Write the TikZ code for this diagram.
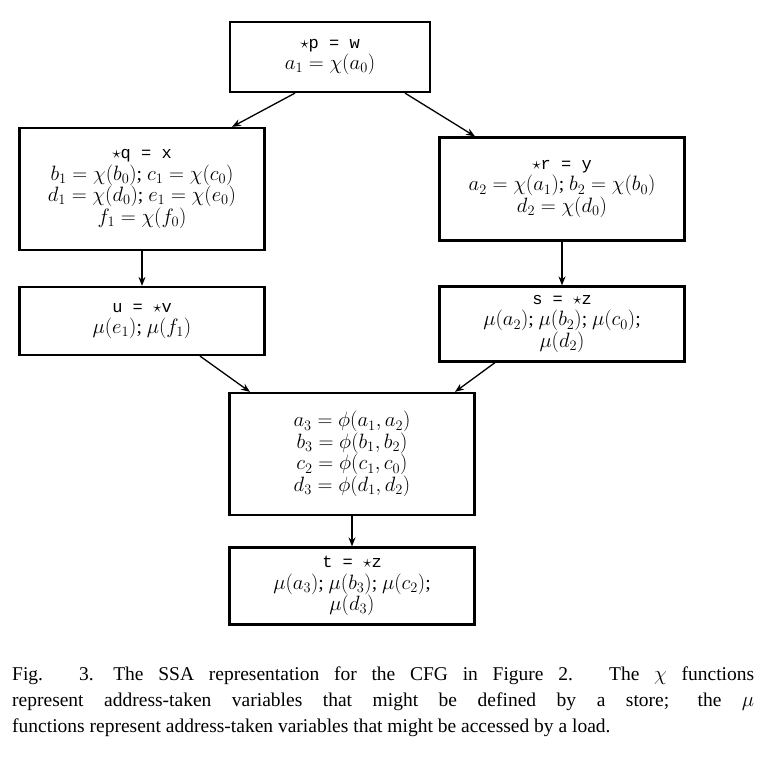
\documentclass[tikz,border=0pt]{standalone}
\usepackage{fontspec}
\setmainfont{Liberation Serif}
\setmonofont{Liberation Mono}
\usetikzlibrary{arrows.meta}
\newcommand{\code}[1]{{\fontsize{17}{21}\selectfont\texttt{#1}}}
\newcommand{\st}{$\star$}
\begin{document}
\begin{tikzpicture}[x=1pt,y=-1pt,
 box/.style={draw,line width=2.2pt,align=center,inner sep=0pt,font=\fontsize{19.5}{21.5}\selectfont},
 arr/.style={-{Stealth[length=9pt,width=7pt]},line width=1.3pt}]
\useasboundingbox (0,0) rectangle (765,760);
\node[box,minimum width=200,minimum height=70] (top) at (330,57) {\code{\st p = w}\\$a_1=\chi(a_0)$};
\node[box,minimum width=245,minimum height=122] (q) at (142,189) {\code{\st q = x}\\$b_1=\chi(b_0)$; $c_1=\chi(c_0)$\\$d_1=\chi(d_0)$; $e_1=\chi(e_0)$\\$f_1=\chi(f_0)$};
\node[box,minimum width=245,minimum height=103] (r) at (562,189) {\code{\st r = y}\\$a_2=\chi(a_1)$; $b_2=\chi(b_0)$\\$d_2=\chi(d_0)$};
\node[box,minimum width=245,minimum height=68] (u) at (142,321) {\code{u = \st v}\\$\mu(e_1)$; $\mu(f_1)$};
\node[box,minimum width=245,minimum height=75] (s) at (562,324) {\code{s = \st z}\\$\mu(a_2)$; $\mu(b_2)$; $\mu(c_0)$;\\$\mu(d_2)$};
\node[box,minimum width=245,minimum height=122] (phi) at (352,454) {$a_3=\phi(a_1,a_2)$\\$b_3=\phi(b_1,b_2)$\\$c_2=\phi(c_1,c_0)$\\$d_3=\phi(d_1,d_2)$};
\node[box,minimum width=245,minimum height=77] (t) at (352,586) {\code{t = \st z}\\$\mu(a_3)$; $\mu(b_3)$; $\mu(c_2)$;\\$\mu(d_3)$};
\draw[arr] ([xshift=-35]top.south) -- ([xshift=90]q.north);
\draw[arr] ([xshift=75]top.south) -- ([xshift=-87]r.north);
\draw[arr] (q) -- (u);
\draw[arr] (r) -- (s);
\draw[arr] ([xshift=58]u.south) -- ([xshift=-102]phi.north);
\draw[arr] ([xshift=-67]s.south) -- ([xshift=103]phi.north);
\draw[arr] (phi) -- (t);
\node[anchor=north west,text width=742,align=justify,inner sep=0pt,font=\fontsize{19.5}{26}\selectfont] (cap) at (12,667)
 {Fig. 3.\quad The SSA representation for the CFG in Figure 2. The $\chi$ functions\linebreak represent address-taken variables that might be defined by a store; the $\mu$\linebreak functions represent address-taken variables that might be accessed by a load.};
\end{tikzpicture}
\end{document}
